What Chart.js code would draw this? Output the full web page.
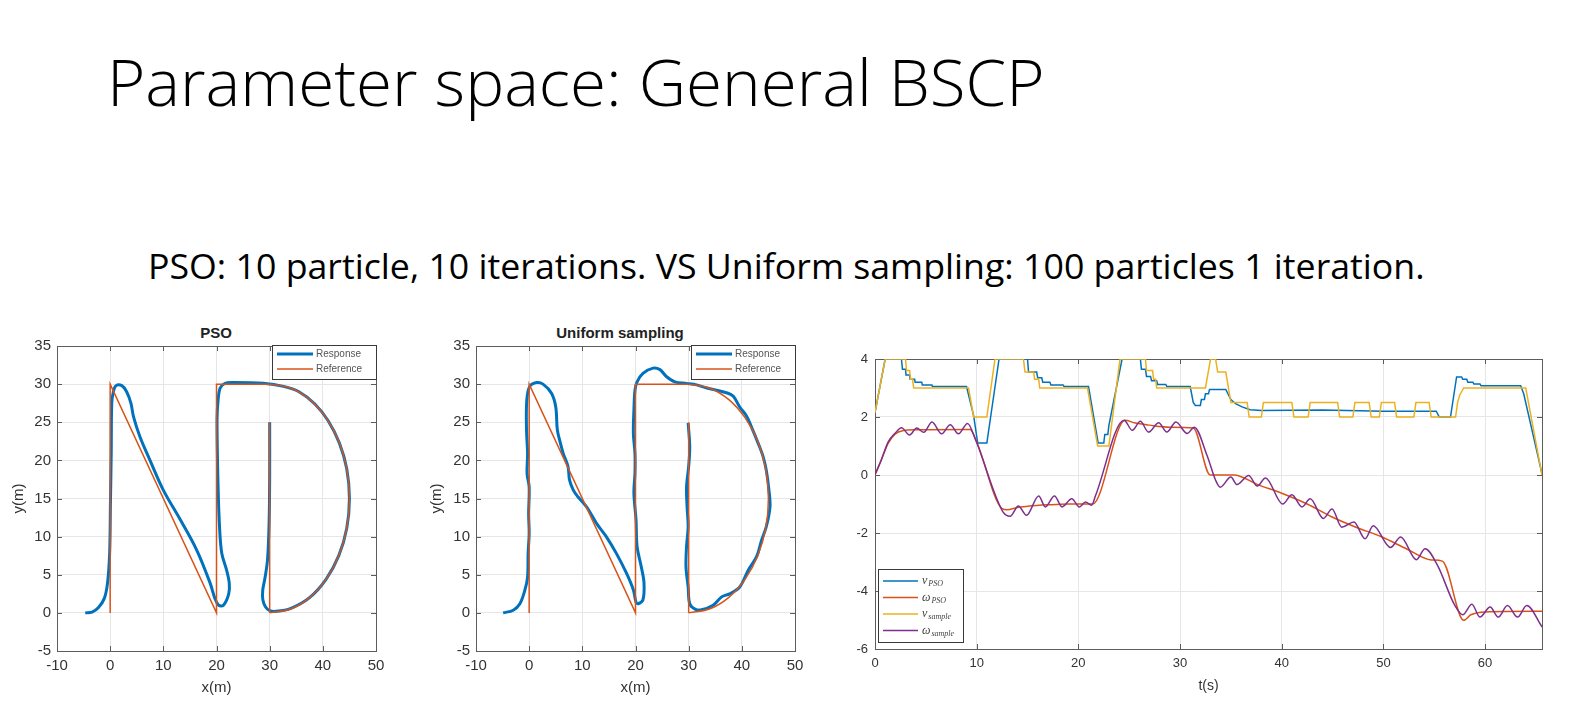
<!DOCTYPE html>
<html>
<head>
<meta charset="utf-8">
<script src="https://cdn.jsdelivr.net/npm/chart.js@4.4.0/dist/chart.umd.min.js"></script>
<style>
  body { margin: 0; width: 1575px; height: 721px; overflow: hidden; background: #fff; position: relative; }
  .abs { position: absolute; white-space: nowrap; line-height: 1; }
  #title { left: 107px; top: 38px; font: 300 63px "Open Sans", sans-serif; color: #000; transform-origin: 0 0; }
  #sub { left: 148px; top: 242px; font: 400 33px "Open Sans", sans-serif; color: #000; transform-origin: 0 0; }
  .ctitle { top: 324px; width: 240px; text-align: center; font: bold 15px "Liberation Sans", Arial, sans-serif; color: #222; }
  canvas { position: absolute; }
</style>
</head>
<body>
<div id="title" class="abs">Parameter space: General BSCP</div>
<div id="sub" class="abs">PSO: 10 particle, 10 iterations. VS Uniform sampling: 100 particles 1 iteration.</div>
<div class="abs ctitle" style="left:96px">PSO</div>
<div class="abs ctitle" style="left:500px">Uniform sampling</div>
<canvas id="psoChart" width="392" height="384" style="left:0;top:318px"></canvas>
<canvas id="unifChart" width="411" height="384" style="left:400px;top:318px"></canvas>
<canvas id="timeChart" width="730" height="370" style="left:830px;top:330px"></canvas>
<script>
// reference path (m): N plus the straight parts of D, then the D arc, then the last stroke
var refLines = [[0, 0], [0, 30], [20, 0], [20, 30], [30, 30]];
var refArc = [[30, 30], [33.9, 29.5], [37.5, 28], [40.6, 25.6], [43, 22.5], [44.5, 18.9], [45, 15],
  [44.5, 11.1], [43, 7.5], [40.6, 4.4], [37.5, 2], [33.9, 0.5], [30, 0]];
var refTail = [[30, 0], [30, 25]];

// PSO response (10 particles, 10 iterations)
var psoResponse = [[-4.7, 0], [-3.4, 0.1], [-2.2, 0.7], [-1.1, 1.9], [-0.5, 3.9], [-0.1, 7.8], [0.05, 14.4],
  [0.2, 20.9], [0.3, 27.5], [0.6, 29.0], [1.1, 29.8], [2.2, 29.8], [3.1, 29.0], [3.9, 27.5], [4.4, 25.7],
  [5.6, 23.1], [7.5, 20.0], [10, 16.1], [13.2, 12.2], [16.3, 8.2], [18.8, 3.9], [19.7, 1.9], [20.4, 1.0],
  [21.3, 1.0], [22.3, 2.5], [22.4, 3.9], [21.9, 5.6], [21.0, 7.8], [20.6, 10.9], [20.3, 16.5], [20.1, 25.3],
  [20.3, 27.9], [20.7, 29.5], [21.6, 30.1], [23.2, 30.2], [28.8, 30.1], [32.6, 29.7], [35.5, 29.0],
  [38.5, 27.4], [41, 25.2], [43.1, 22.3], [44.5, 18.9], [45, 15], [44.5, 11.1], [43, 7.5], [40.6, 4.4],
  [37.5, 2.0], [34, 0.6], [31.2, 0.2], [30, 0.3], [29.2, 0.8], [28.7, 1.8], [28.7, 3.0], [29.1, 4.5],
  [29.6, 7], [29.9, 12], [30, 18], [30, 25]];

// uniform sampling response (100 particles, 1 iteration)
var unifResponse = [[-4.9, 0], [-3.0, 0.35], [-1.75, 1.2], [-0.8, 3.0], [-0.3, 4.7], [-0.2, 7.8], [0, 10.4],
  [-0.1, 13.0], [0, 16.5], [-0.4, 18.3], [-0.3, 20.9], [-0.5, 24.0], [-0.45, 27.9], [0.1, 29.7], [1.4, 30.2],
  [2.6, 30.0], [4.2, 28.8], [5.0, 27.0], [5.3, 24.0], [5.9, 22.2], [6.4, 20.9], [7.3, 19.2], [7.6, 17.4],
  [8.3, 16.1], [9.2, 15.2], [10.8, 13.9], [12.7, 11.7], [14.5, 10.0], [16.4, 7.8], [18.3, 5.2], [19.6, 3.0],
  [20.1, 1.4], [20.5, 1.2], [21.4, 1.7], [21.6, 3.9], [21.1, 6.0], [20.3, 8.7], [20.1, 12.2], [19.7, 15.7],
  [19.9, 18.3], [19.9, 20.9], [19.6, 23.5], [19.7, 26.6], [19.9, 29.2], [20.3, 30.3], [21.4, 31.4],
  [23.3, 32.1], [24.6, 31.9], [25.8, 31.0], [27.4, 30.3], [29.6, 30.1], [31.5, 29.9], [33.4, 29.5],
  [35.2, 29.2], [37.4, 28.8], [38.4, 28.4], [39.6, 27.0], [40.9, 25.8], [41.8, 24.4], [43.1, 22.2],
  [44.0, 20.5], [44.6, 18.7], [45.1, 16.1], [45.3, 13.9], [44.6, 11.3], [43.7, 9.5], [42.8, 7.4],
  [41.2, 5.6], [39.6, 3.4], [37.7, 2.5], [36.2, 2.1], [34.6, 1.0], [32.4, 0.4], [31.2, 0.5], [30.2, 1.2],
  [29.9, 3.4], [29.5, 6.0], [29.6, 8.7], [29.9, 11.3], [29.7, 13.9], [29.6, 16.5], [30.0, 19.2],
  [30.2, 21.8], [29.9, 24.9]];

// time histories [t (s), value]
var vPso = [[0, 2.15], [1.0, 4], [2.6, 4], [2.7, 3.65], [3.0, 3.65], [3.05, 3.45], [3.4, 3.45], [3.45, 3.3],
  [3.9, 3.3], [3.95, 3.2], [4.6, 3.2], [4.65, 3.1], [5.6, 3.1], [5.65, 3.05], [9.0, 3.05], [9.7, 2.05],
  [10.1, 1.1], [11.0, 1.1], [12.2, 4], [15.0, 4], [15.1, 3.55], [15.9, 3.55], [16.0, 3.35], [16.4, 3.35],
  [16.5, 3.2], [17.2, 3.2], [17.3, 3.1], [18.5, 3.1], [18.6, 3.05], [21.0, 3.05], [21.95, 1.1], [22.5, 1.1],
  [22.6, 1.4], [22.9, 1.4], [23.0, 1.7], [24.3, 4], [26.1, 4], [26.2, 3.65], [26.6, 3.65], [26.7, 3.4],
  [27.1, 3.4], [27.2, 3.25], [27.7, 3.25], [27.8, 3.12], [28.6, 3.12], [28.7, 3.05], [31.0, 3.05],
  [31.3, 2.5], [31.5, 2.4], [32.0, 2.4], [32.1, 2.6], [32.4, 2.6], [32.5, 2.8], [32.8, 2.8], [32.9, 2.95],
  [34.5, 2.95], [35.0, 2.6], [35.5, 2.45], [36.1, 2.35], [36.9, 2.25], [38.0, 2.22], [44, 2.24], [50, 2.2],
  [55.2, 2.2], [55.5, 2.0], [56.6, 2.0], [57.2, 3.38], [57.7, 3.38], [57.8, 3.3], [58.2, 3.3], [58.3, 3.2],
  [58.8, 3.2], [58.9, 3.14], [59.5, 3.14], [59.6, 3.08], [63.5, 3.08], [63.8, 2.8], [65.6, 0.04]];

var omegaPso = [[0, 0], [0.6, 0.5], [1.3, 1.1], [2.0, 1.42], [2.8, 1.53], [4.0, 1.56], [9.35, 1.57],
  [10.0, 1.14], [12.5, -1.16], [13.0, -1.2], [14.0, -1.12], [15.0, -1.08], [17.0, -1.03], [19.0, -1.0],
  [21.4, -1.0], [24.6, 1.89], [25.5, 1.8], [27.0, 1.72], [29.0, 1.65], [31.3, 1.62], [32.97, 0.0],
  [35.3, 0.0], [37.7, -0.34], [40.0, -0.63], [42.5, -1.0], [44.9, -1.44], [47.3, -1.8], [49.8, -2.13],
  [52.3, -2.55], [54.7, -2.93], [55.8, -2.97], [57.9, -5.01], [58.6, -4.82], [60.0, -4.72], [65.6, -4.7]];

var vSample = [[0, 2.15], [1.0, 4], [3.0, 4], [3.1, 3.6], [3.4, 3.6], [3.5, 3.3], [3.7, 3.3], [3.8, 3.0],
  [9.2, 3.0], [9.7, 2.0], [11.0, 2.0], [11.8, 4], [14.6, 4], [14.75, 3.55], [15.6, 3.55], [15.7, 3.3],
  [16.1, 3.3], [16.2, 3.0], [20.9, 3.0], [21.9, 1.0], [23.0, 1.0], [24.1, 4], [26.6, 4], [26.7, 3.6],
  [27.3, 3.6], [27.4, 3.3], [27.6, 3.3], [27.7, 3.0], [32.5, 3.0], [33.0, 4], [33.5, 4], [33.7, 3.55],
  [34.5, 3.55], [35.0, 2.5], [36.6, 2.5], [36.8, 2.0], [38.0, 2.0], [38.2, 2.5], [41.0, 2.5], [41.2, 2.0],
  [42.6, 2.0], [42.8, 2.5], [45.5, 2.5], [45.7, 2.0], [47.0, 2.0], [47.2, 2.5], [48.6, 2.5], [48.8, 2.0],
  [49.6, 2.0], [49.8, 2.5], [51.1, 2.5], [51.3, 2.0], [53.0, 2.0], [53.2, 2.5], [54.5, 2.5], [54.7, 2.0],
  [57.1, 2.0], [57.3, 2.5], [57.5, 2.75], [57.9, 3.0], [64.0, 3.0], [65.6, 0.0]];

var omegaSample = [[0, 0.02], [0.6, 0.5], [1.3, 1.14], [2.0, 1.45], [2.6, 1.63], [3.4, 1.38], [4.1, 1.62],
  [4.8, 1.47], [5.6, 1.83], [6.55, 1.42], [7.4, 1.73], [8.2, 1.42], [9.1, 1.78], [9.85, 1.25],
  [12.6, -1.28], [13.3, -1.42], [14.1, -1.07], [14.9, -1.39], [16.1, -0.72], [16.75, -1.1], [17.65, -0.72],
  [18.4, -1.1], [19.35, -0.82], [20.1, -1.1], [20.7, -0.93], [21.3, -1.04], [21.7, -0.7], [24.5, 1.89],
  [25.3, 1.54], [26.1, 1.85], [26.9, 1.48], [27.9, 1.8], [28.7, 1.48], [29.6, 1.83], [30.7, 1.43],
  [31.4, 1.65], [32.65, 0.68], [33.5, -0.18], [33.95, -0.42], [35.0, -0.07], [35.6, -0.33], [36.75, -0.02],
  [37.6, -0.38], [38.4, -0.1], [40.1, -1.0], [41.0, -0.68], [42.0, -1.1], [42.8, -0.82], [44.1, -1.5],
  [44.95, -1.17], [45.9, -1.8], [47.1, -1.62], [48.2, -2.2], [49.0, -1.75], [50.7, -2.5], [51.7, -2.14],
  [53.25, -2.92], [54.1, -2.54], [55.3, -3.1], [57.0, -4.48], [57.8, -4.82], [58.7, -4.46], [59.5, -4.9],
  [60.5, -4.55], [61.3, -4.9], [62.2, -4.5], [63.2, -4.9], [64.1, -4.5], [65.6, -5.24]];

var xyTicks = { x: [-10, 50, 10], y: [-5, 35, 5] };
var tTicks = { x: [0, 65.6, 10], y: [-6, 4, 2] };

function pts(a) { return a.map(function (p) { return { x: p[0], y: p[1] }; }); }

// size slide text by cap height, sit it on a baseline and squeeze to the width in the picture
function placeText(id, capH, baseline, width) {
  var el = document.getElementById(id);
  var cs = getComputedStyle(el);
  var c = document.createElement('canvas').getContext('2d');
  c.font = cs.fontWeight + ' 100px ' + cs.fontFamily;
  var m = c.measureText('P');
  var size = 100 * capH / m.actualBoundingBoxAscent;
  var asc = m.fontBoundingBoxAscent * size / 100, desc = m.fontBoundingBoxDescent * size / 100;
  el.style.fontSize = size + 'px';
  el.style.top = (baseline - ((size - asc - desc) / 2 + asc)) + 'px';
  el.style.transform = 'scaleX(' + (width / el.offsetWidth) + ')';
}
placeText('title', 46, 94.5, 938);
placeText('sub', 24.5, 273, 1277);

var axisFont = { family: 'Liberation Sans', size: 15 };
var smallFont = { family: 'Liberation Sans', size: 13 };

// matlab style box with inward ticks
var frame = {
  id: 'frame',
  beforeDatasetsDraw: function (chart) {
    var ctx = chart.ctx, a = chart.chartArea, sx = chart.scales.x, sy = chart.scales.y;
    ctx.save();
    ctx.strokeStyle = '#5c5c5c';
    ctx.lineWidth = 1;
    ctx.beginPath();
    sx.ticks.forEach(function (t) {
      var px = Math.round(sx.getPixelForValue(t.value)) + 0.5;
      ctx.moveTo(px, a.bottom); ctx.lineTo(px, a.bottom - 5);
      ctx.moveTo(px, a.top); ctx.lineTo(px, a.top + 5);
    });
    sy.ticks.forEach(function (t) {
      var py = Math.round(sy.getPixelForValue(t.value)) + 0.5;
      ctx.moveTo(a.left, py); ctx.lineTo(a.left + 5, py);
      ctx.moveTo(a.right, py); ctx.lineTo(a.right - 5, py);
    });
    ctx.stroke();
    ctx.strokeRect(Math.round(a.left) + 0.5, Math.round(a.top) + 0.5,
      Math.round(a.right - a.left), Math.round(a.bottom - a.top));
    ctx.restore();
  }
};

// boxed legend inside the axes
var boxLegend = {
  id: 'boxLegend',
  afterDatasetsDraw: function (chart, args, o) {
    var ctx = chart.ctx, a = chart.chartArea;
    var x = o.corner === 'tr' ? a.right - o.w - o.dx : a.left + o.dx;
    var y = o.corner === 'tr' ? a.top + o.dy : a.bottom - o.h - o.dy;
    x = Math.round(x); y = Math.round(y);
    ctx.save();
    ctx.fillStyle = '#fff';
    ctx.fillRect(x, y, o.w, o.h);
    ctx.strokeStyle = '#3a3a3a';
    ctx.lineWidth = 1;
    ctx.strokeRect(x + 0.5, y + 0.5, o.w, o.h);
    chart.data.datasets.filter(function (d) { return d.label; }).forEach(function (d, i) {
      var ry = y + o.first + i * o.gap;
      ctx.strokeStyle = d.borderColor;
      ctx.lineWidth = d.borderWidth;
      ctx.beginPath();
      ctx.moveTo(x + o.pad, ry);
      ctx.lineTo(x + o.pad + o.len, ry);
      ctx.stroke();
      var parts = d.label.split('_');
      ctx.fillStyle = o.color;
      ctx.textBaseline = 'middle';
      ctx.font = o.font;
      ctx.fillText(parts[0], x + o.textX, ry);
      if (parts[1]) {
        var w = ctx.measureText(parts[0]).width;
        ctx.font = o.subFont;
        ctx.fillText(parts[1], x + o.textX + w + 1, ry + 3);
      }
    });
    ctx.restore();
  }
};

function ndChart(id, response, yWidth, yTitlePad) {
  var ctx = document.getElementById(id).getContext('2d');
  return new Chart(ctx, {
    type: 'scatter',
    data: {
      datasets: [
        { label: 'Response', data: pts(response), showLine: true, borderColor: '#0072BD', borderWidth: 3,
          pointRadius: 0, tension: 0.35, order: 2 },
        { label: 'Reference', data: pts(refLines), showLine: true, borderColor: '#D95319', borderWidth: 1.5,
          pointRadius: 0, tension: 0, order: 1 },
        { data: pts(refArc), showLine: true, borderColor: '#D95319', borderWidth: 1.5,
          pointRadius: 0, tension: 0.4, order: 1 },
        { data: pts(refTail), showLine: true, borderColor: '#D95319', borderWidth: 1.5,
          pointRadius: 0, tension: 0, order: 1 }
      ]
    },
    options: {
      responsive: false,
      animation: false,
      devicePixelRatio: 1,
      layout: { padding: { top: 28, right: 16, left: 0, bottom: 0 } },
      plugins: {
        legend: { display: false },
        tooltip: { enabled: false },
        boxLegend: { corner: 'tr', dx: 0, dy: -1, w: 104, h: 34, first: 9, gap: 15, pad: 5, len: 36, textX: 44,
          color: '#555', font: '10px "Liberation Sans"', subFont: '7px "Liberation Sans"' }
      },
      scales: {
        x: {
          type: 'linear', min: xyTicks.x[0], max: xyTicks.x[1],
          ticks: { stepSize: xyTicks.x[2], padding: 6, color: '#333', font: axisFont },
          grid: { color: '#e6e6e6', drawTicks: false },
          border: { display: false },
          title: { display: true, text: 'x(m)', color: '#333', font: axisFont, padding: { top: 0, bottom: 5 } },
          afterFit: function (s) { s.height = 51; }
        },
        y: {
          type: 'linear', min: xyTicks.y[0], max: xyTicks.y[1],
          ticks: { stepSize: xyTicks.y[2], padding: 6, color: '#333', font: axisFont },
          grid: { color: '#e6e6e6', drawTicks: false },
          border: { display: false },
          title: { display: true, text: 'y(m)', color: '#333', font: axisFont, padding: { top: yTitlePad, bottom: 0 } },
          afterFit: function (s) { s.width = yWidth; }
        }
      }
    },
    plugins: [frame, boxLegend]
  });
}

ndChart('psoChart', psoResponse, 57, 10);
ndChart('unifChart', unifResponse, 76, 28);

function series(label, arr, color, order, smooth) {
  return { label: label, data: pts(arr), borderColor: color, backgroundColor: color, borderWidth: 1.5,
    pointRadius: 0, order: order, cubicInterpolationMode: smooth ? 'monotone' : 'default', tension: 0 };
}

new Chart(document.getElementById('timeChart').getContext('2d'), {
  type: 'line',
  data: {
    datasets: [
      series('v_PSO', vPso, '#0072BD', 4, false),
      series('ω_PSO', omegaPso, '#D95319', 3, true),
      series('v_sample', vSample, '#EDB120', 2, false),
      series('ω_sample', omegaSample, '#7E2F8E', 1, true)
    ]
  },
  options: {
    responsive: false,
    animation: false,
    devicePixelRatio: 1,
    layout: { padding: { top: 29, right: 18, left: 0, bottom: 0 } },
    plugins: {
      legend: { display: false },
      tooltip: { enabled: false },
      boxLegend: { corner: 'bl', dx: 3, dy: 7, w: 85, h: 73, first: 12, gap: 16.5, pad: 5, len: 35, textX: 44,
        color: '#444', font: 'italic 12px "Liberation Serif"', subFont: 'italic 8px "Liberation Serif"' }
    },
    scales: {
      x: {
        type: 'linear', min: tTicks.x[0], max: tTicks.x[1],
        ticks: { stepSize: tTicks.x[2], padding: 7, color: '#333', font: smallFont, includeBounds: false },
        grid: { color: '#e6e6e6', drawTicks: false },
        border: { display: false },
        title: { display: true, text: 't(s)', color: '#333', font: { family: 'Liberation Sans', size: 14 },
          padding: { top: 0, bottom: 5 } },
        afterFit: function (s) { s.height = 51; }
      },
      y: {
        type: 'linear', min: tTicks.y[0], max: tTicks.y[1],
        ticks: { stepSize: tTicks.y[2], padding: 7, color: '#333', font: smallFont },
        grid: { color: '#e6e6e6', drawTicks: false },
        border: { display: false },
        afterFit: function (s) { s.width = 45; }
      }
    }
  },
  plugins: [frame, boxLegend]
});
</script>
</body>
</html>
